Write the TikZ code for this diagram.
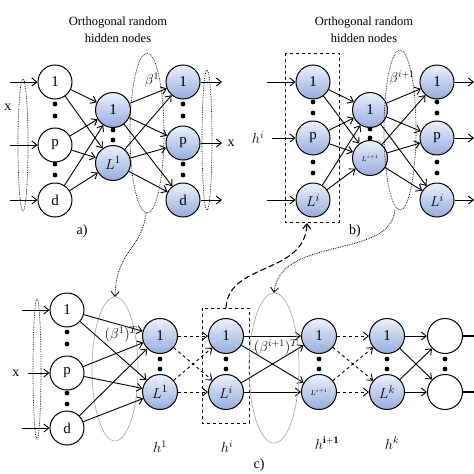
\documentclass[tikz,border=0pt]{standalone}
\usepackage{fontspec}
\setmainfont{Liberation Serif}
\usetikzlibrary{arrows.meta}
\begin{document}
\begin{tikzpicture}[x=1pt,y=-1pt,
  wnode/.style={circle,draw,line width=1pt,minimum size=34pt,inner sep=0pt,fill=white,font=\fontsize{15}{15}\selectfont},
  bnode/.style={wnode,top color={rgb,255:red,236;green,241;blue,250},bottom color={rgb,255:red,148;green,172;blue,222}},
  hnode/.style={bnode,minimum size=35pt},
  conn/.style={line width=0.9pt,-{Straight Barb[length=5pt,width=8pt]}},
  dconn/.style={conn,dashed},
  dotell/.style={densely dotted,line width=0.7pt},
  grayell/.style={gray!65,line width=0.7pt},
  lbl/.style={font=\fontsize{14}{14}\selectfont},
  ttl/.style={font=\fontsize{12.5}{15}\selectfont,align=center},
  boxd/.style={dashed,line width=0.8pt},
]
\useasboundingbox (0,0) rectangle (474,474);
\newcommand{\vdot}[2]{\fill (#1,#2) circle (2.4pt);}

% ---------------- panel a ----------------
\node[ttl] (ta) at (118,30) {Orthogonal random\\[2pt]hidden nodes};
\node[wnode] (a1) at (55,82) {1};
\node[wnode] (ap) at (55,145) {p};
\node[wnode] (ad) at (55,200) {d};
\node[hnode] (ah1) at (113,110) {1};
\node[hnode] (ahL) at (113,163) {$L^1$};
\node[bnode] (ao1) at (183,82) {1};
\node[bnode] (aop) at (183,143) {p};
\node[bnode] (aod) at (183,200) {d};
\foreach \y in {104,116,164,175} {\vdot{55}{\y}}
\foreach \y in {130,140} {\vdot{113}{\y}}
\foreach \y in {104,116,164,175} {\vdot{183}{\y}}
\coordinate (ax1) at (10,82);
\coordinate (axp) at (10,145);
\coordinate (axd) at (10,200);
\node[lbl] (axl) at (8,107) {x};
\foreach \s in {1,p,d} {\draw[conn] (ax\s) -- (a\s.west);}
\foreach \s in {1,p,d} {\foreach \t in {1,L} {\draw[conn] (a\s) -- (ah\t);}}
\foreach \s in {1,L} {\foreach \t in {1,p,d} {\draw[conn] (ah\s) -- (ao\t);}}
\coordinate (ay1) at (222,82);
\coordinate (ayp) at (222,143);
\coordinate (ayd) at (222,200);
\foreach \s in {1,p,d} {\draw[conn] (ao\s.east) -- (ay\s);}
\node[lbl] (ayl) at (231,143) {x};
\draw[dotell] (23,145) ellipse (5 and 66);
\draw[dotell] (207,140) ellipse (5 and 70);
\draw[dotell] (147,133) ellipse (17 and 80);
\node[lbl] (abeta) at (152,80) {$\beta^1$};
\node[lbl] (alab) at (82,231) {a)};

% ---------------- panel b ----------------
\node[ttl] (tb) at (364,30) {Orthogonal random\\[2pt]hidden nodes};
\node[bnode] (b1) at (313,82) {1};
\node[bnode] (bp) at (313,138) {p};
\node[bnode] (bd) at (313,200) {$L^i$};
\node[hnode] (bh1) at (370,110) {1};
\node[hnode] (bhL) at (370,158) {\fontsize{7}{7}\selectfont$L^{i+1}$};
\node[bnode] (bo1) at (437,82) {1};
\node[bnode] (bop) at (437,138) {p};
\node[bnode] (bod) at (437,200) {$L^i$};
\foreach \y in {102,113,162,173} {\vdot{313}{\y}}
\foreach \y in {129,138} {\vdot{370}{\y}}
\foreach \y in {102,113,162,173} {\vdot{437}{\y}}
\draw[boxd] (285,53) rectangle (339,222);
\coordinate (bx1) at (267,82);
\coordinate (bxp) at (272,138);
\coordinate (bxd) at (267,200);
\node[lbl] (bxl) at (258,138) {$h^i$};
\foreach \s in {1,p,d} {\draw[conn] (bx\s) -- (b\s.west);}
\foreach \s in {1,p,d} {\foreach \t in {1,L} {\draw[conn] (b\s) -- (bh\t);}}
\foreach \s in {1,L} {\foreach \t in {1,p,d} {\draw[conn] (bh\s) -- (bo\t);}}
\coordinate (by1) at (474,82);
\coordinate (byp) at (474,138);
\coordinate (byd) at (474,200);
\foreach \s in {1,p,d} {\draw[conn] (bo\s.east) -- (by\s);}
\draw[dotell] (400,130) ellipse (16 and 80);
\node[lbl] (bbeta) at (402,78) {$\beta^{i+1}$};
\node[lbl] (blab) at (355,231) {b)};

% ---------------- panel c ----------------
\node[wnode] (c1) at (67,310) {1};
\node[wnode] (cp) at (67,373) {p};
\node[wnode] (cd) at (67,428) {d};
\foreach \y in {332,344,393,404} {\vdot{67}{\y}}
\coordinate (cx1) at (22,310);
\coordinate (cxp) at (28,373);
\coordinate (cxd) at (22,428);
\node[lbl] (cxl) at (16,373) {x};
\foreach \s in {1,p,d} {\draw[conn] (cx\s) -- (c\s.west);}
\draw[dotell] (37,369) ellipse (4 and 70);
\draw[grayell] (115,369) ellipse (23 and 72);
% hidden layers
\node[hnode] (ca1) at (160,336) {1};
\node[hnode] (caL) at (160,392) {$L^1$};
\node[hnode] (cb1) at (226,336) {1};
\node[hnode] (cbL) at (226,392) {$L^i$};
\node[hnode] (cc1) at (319,336) {1};
\node[hnode] (ccL) at (319,392) {\fontsize{7}{7}\selectfont$L^{i+1}$};
\node[hnode] (cd1) at (387,336) {1};
\node[hnode] (cdL) at (387,392) {$L^k$};
\node[wnode,minimum size=35pt] (ce1) at (445,336) {};
\node[wnode,minimum size=35pt] (ceL) at (445,392) {};
\foreach \xx in {160,226,319,387} {\vdot{\xx}{359}\vdot{\xx}{369}}
\vdot{445}{359}\vdot{445}{369}
\foreach \s in {1,p,d} {\foreach \t in {1,L} {\draw[conn] (c\s) -- (ca\t);}}
\foreach \s in {1,L} {\foreach \t in {1,L} {\draw[dconn] (ca\s) -- (cb\t);}}
\foreach \s in {1,L} {\foreach \t in {1,L} {\draw[conn] (cb\s) -- (cc\t);}}
\foreach \s in {1,L} {\foreach \t in {1,L} {\draw[dconn] (cc\s) -- (cd\t);}}
\foreach \s in {1,L} {\foreach \t in {1,L} {\draw[conn] (cd\s) -- (ce\t);}}
\coordinate (cy1) at (474,336);
\coordinate (cyL) at (474,392);
\draw[line width=1.4pt] (ce1.east) -- (cy1);
\draw[line width=1.4pt] (ceL.east) -- (cyL);
\draw[boxd] (202,308) rectangle (249,423);
\draw[grayell] (274,368) ellipse (25 and 75);
\node[lbl] (cbeta1) at (121,334) {$(\beta^1)^T$};
\node[lbl] (cbeta2) at (276,347) {$(\beta^{i+1})^T$};
\node[lbl] (ch1) at (160,447) {$h^1$};
\node[lbl] (chi) at (227,447) {$h^i$};
\node[lbl] (chip) at (327,443) {$h^{\mathbf{i+1}}$};
\node[lbl] (chk) at (392,443) {$h^k$};
\node[lbl] (clab) at (259,465) {c)};

% ---------------- linking curves ----------------
\coordinate (la) at (146,213);
\coordinate (lc) at (115,297);
\draw[densely dotted,line width=0.8pt,-{Straight Barb[length=5pt,width=8pt]}]
  (la) .. controls (142,250) and (116,250) .. (lc);
\coordinate (lb) at (395,210);
\coordinate (lc2) at (274,293);
\draw[densely dotted,line width=0.8pt,-{Straight Barb[length=5pt,width=8pt]}]
  (lb) .. controls (390,260) and (280,235) .. (lc2);
\coordinate (bx) at (226,308);
\coordinate (bb) at (307,223);
\draw[dashed,dash pattern=on 6pt off 3pt,line width=1.1pt,-{Straight Barb[length=5pt,width=8pt]}]
  (bx) .. controls (228,262) and (305,275) .. (bb);
\end{tikzpicture}
\end{document}
